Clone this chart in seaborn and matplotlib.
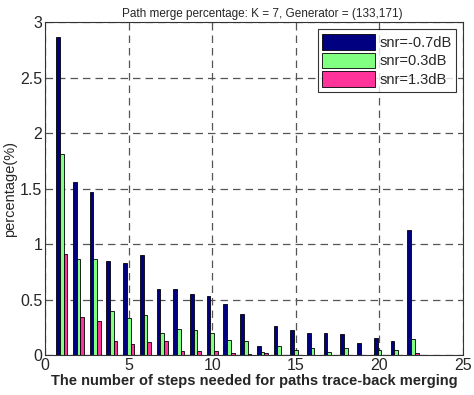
import seaborn as sns
import matplotlib.pyplot as plt
import pandas as pd

steps = list(range(1, 23))
snr_m07 = [2.87, 1.556, 1.47, 0.85, 0.83, 0.90, 0.595, 0.595, 0.55, 0.53, 0.456,
           0.372, 0.08, 0.264, 0.225, 0.20, 0.20, 0.186, 0.11, 0.156, 0.126, 1.126]
snr_03 = [1.81, 0.865, 0.865, 0.396, 0.333, 0.357, 0.198, 0.237, 0.222, 0.198, 0.138,
          0.123, 0.027, 0.08, 0.045, 0.063, 0.027, 0.063, 0.0, 0.045, 0.045, 0.141]
snr_13 = [0.91, 0.345, 0.306, 0.123, 0.096, 0.114, 0.126, 0.033, 0.039, 0.033, 0.018,
          0.01, 0.02, 0.005, 0.005, 0.005, 0.005, 0.0, 0.0, 0.0, 0.0, 0.018]
series = ['snr=-0.7dB', 'snr=0.3dB', 'snr=1.3dB']
colors = ['#000080', '#80ff80', '#ff3399']

df = pd.DataFrame({
    'step': steps * 3,
    'value': snr_m07 + snr_03 + snr_13,
    'snr': [series[0]] * len(steps) + [series[1]] * len(steps) + [series[2]] * len(steps),
})

sns.set_style('white')
plt.rcParams['font.family'] = ['Liberation Sans', 'DejaVu Sans']

fig = plt.figure(figsize=(4.74, 3.95), dpi=100)
ax = fig.add_axes([0.095, 0.101, 0.882, 0.843])

sns.barplot(data=df, x='step', y='value', hue='snr', hue_order=series,
            palette=colors, native_scale=True, width=0.667, errorbar=None,
            edgecolor='black', linewidth=0.6, saturation=1, ax=ax)

ax.set_xlim(0, 25)
ax.set_ylim(0, 3)
ax.set_xticks([0, 5, 10, 15, 20, 25])
ax.set_yticks([0, 0.5, 1, 1.5, 2, 2.5, 3])
ax.set_yticklabels(['0', '0.5', '1', '1.5', '2', '2.5', '3'])
ax.grid(True, linestyle=(0, (6, 4)), color='#555555', linewidth=0.9)
ax.set_axisbelow(True)
ax.tick_params(direction='in', labelsize=11.5, length=3, pad=2)
for s in ax.spines.values():
    s.set_color('#333333')
    s.set_linewidth(0.8)

ax.set_title('Path merge percentage: K = 7, Generator = (133,171)', fontsize=8.5, pad=4, x=0.52)
ax.set_xlabel('The number of steps needed for paths trace-back merging',
              fontsize=10.5, fontweight='bold', labelpad=1)
ax.set_ylabel('percentage(%)', fontsize=10.5, labelpad=2)

leg = ax.legend(loc='upper right', fontsize=10.5, frameon=True, fancybox=False,
                edgecolor='black', handlelength=3.6, handleheight=1.3,
                borderaxespad=0.5, labelspacing=0.2, handletextpad=0.3,
                borderpad=0.3)
leg.get_frame().set_linewidth(0.8)
for h in leg.legend_handles:
    h.set_edgecolor('black')

fig.savefig('out.png', dpi=100)
